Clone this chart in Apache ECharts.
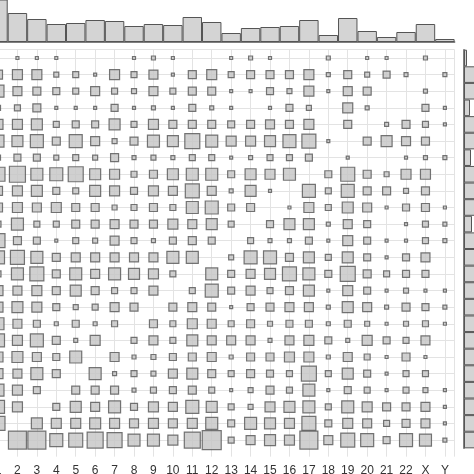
<!DOCTYPE html>
<html><head><meta charset="utf-8">
<script src="https://cdn.jsdelivr.net/npm/echarts@6/dist/echarts.min.js"></script>
<style>html,body{margin:0;padding:0;background:#fff}#c{width:474px;height:474px}</style>
</head><body><div id="c"></div>
<script>
const chroms = ['1','2','3','4','5','6','7','8','9','10','11','12','13','14','15','16','17','18','19','20','21','22','X','Y'];
// matrix rows: chromosome 1..Y (bottom to top), columns chromosome 1..Y
const m1 = [0,18,18,13,14,16,15,12,12,10,16,19,6,9,11,10,18,9,14,13,7,13,12,4];
const m2 = [14,0,11,10,10,11,10,9,10,9,10,12,7,12,11,10,14,7,10,9,6,8,9,3];
const m3 = [13,10,0,7,11,9,12,7,10,9,13,11,6,5,10,11,12,6,12,10,8,8,9,3];
const m4 = [12,10,7,0,8,8,8,4,6,7,8,6,3,5,8,6,12,3,7,6,3,6,5,3];
const m5 = [10,9,12,8,0,12,4,6,5,9,11,8,6,8,7,6,15,6,11,7,3,6,6,0];
const m6 = [10,11,9,7,12,0,9,4,5,7,8,9,4,8,8,10,10,4,9,6,3,8,3,0];
const m7 = [13,10,13,8,4,10,0,6,9,6,11,9,9,9,4,9,10,7,4,10,7,6,9,0];
const m8 = [12,9,7,4,7,4,6,0,8,6,10,9,6,8,5,7,7,4,7,5,3,5,6,3];
const m9 = [10,11,10,7,5,6,9,8,0,8,9,8,3,7,8,9,9,4,11,9,4,8,7,4];
const m10 = [10,9,10,8,11,8,6,6,9,0,6,13,7,9,6,8,11,3,10,7,3,5,3,3];
const m11 = [6,12,14,8,12,9,12,11,10,6,0,12,7,9,11,14,12,7,15,8,6,7,7,0];
const m12 = [13,14,12,8,9,9,9,9,9,12,12,0,5,13,13,8,11,6,11,7,3,7,9,0];
const m13 = [14,8,7,3,6,5,9,6,4,7,8,7,0,6,4,4,7,3,10,7,3,3,6,4];
const m14 = [6,12,6,6,8,8,9,8,8,10,9,11,6,0,7,11,11,4,9,7,0,3,6,4];
const m15 = [9,10,9,10,8,8,5,6,8,6,12,13,7,8,0,3,10,6,11,9,3,7,8,3];
const m16 = [9,10,11,7,6,11,10,7,10,9,14,9,4,11,3,0,13,6,13,8,8,5,8,0];
const m17 = [14,16,12,13,15,11,10,6,8,11,12,12,7,11,10,12,0,7,14,8,5,10,10,0];
const m18 = [5,7,7,5,6,5,8,4,5,4,6,6,3,4,6,6,7,0,3,0,0,3,4,4];
const m19 = [12,11,13,8,13,9,5,8,12,11,15,12,10,10,11,13,14,3,0,8,11,9,8,0];
const m20 = [10,10,11,6,7,7,11,6,10,8,8,8,7,8,9,8,10,0,8,0,4,8,6,3];
const m21 = [5,6,8,3,3,3,7,3,4,3,7,4,3,0,3,7,5,0,10,4,0,0,7,3];
const m22 = [12,9,8,7,6,9,6,5,9,6,8,8,3,3,7,5,10,3,9,8,0,0,4,0];
const mX = [9,10,10,5,6,3,10,6,9,3,8,10,6,8,8,8,10,4,8,5,7,4,0,4];
const mY = [0,3,3,3,0,0,0,3,4,3,0,0,3,4,3,0,0,4,0,3,3,0,4,0];
const topHist = [60,29,23,18,19,22,21,16,18,17,25,20,9,14,15,16,22,7,24,11,5,10,18,3];
const rightHist = [20,20,20,20,20,20,20,20,20,20,20,20,20,8,20,20,20,7,20,20,6,20,20,3];

const rows = [m1,m2,m3,m4,m5,m6,m7,m8,m9,m10,m11,m12,m13,m14,m15,m16,m17,m18,m19,m20,m21,m22,mX,mY];
const pts = [];
rows.forEach((r, ri) => r.forEach((v, ci) => { if (v > 0) pts.push([ci + 1, ri + 1, v]); }));

const UX = 19.43, UY = 16.61;
const gLeft = -2 - UX, gWidth = 24.5 * UX;
const gTop = 58 - 0.5 * UY, gHeight = 24.5 * UY;

const chart = echarts.init(document.getElementById('c'));
chart.setOption({
  animation: false,
  grid: [
    {left: gLeft, top: gTop, width: gWidth, height: gHeight, outerBoundsMode: 'none', containLabel: false},
    {left: gLeft, top: 0, width: gWidth, height: 42, outerBoundsMode: 'none', containLabel: false},
    {left: 464, top: gTop, width: 20, height: 24 * UY, outerBoundsMode: 'none', containLabel: false}
  ],
  xAxis: [
    {gridIndex: 0, type: 'value', min: 0, max: 24.5, interval: 1,
     axisLine: {show: false}, axisTick: {show: false},
     splitLine: {show: true, showMinLine: false, lineStyle: {color: '#e3e3e3'}},
     axisLabel: {margin: 8, color: '#333', fontSize: 12, fontFamily: 'Liberation Sans',
       formatter: v => (v >= 1 && v <= 24 && Number.isInteger(v)) ? chroms[v - 1] : ''}},
    {gridIndex: 1, type: 'value', min: 0, max: 24.5, interval: 1, show: true,
     axisLine: {show: true, onZero: false, lineStyle: {color: '#555', width: 1.5}},
     axisTick: {show: false}, axisLabel: {show: false}, splitLine: {show: false}},
    {gridIndex: 2, type: 'value', min: 0, max: 20, show: false}
  ],
  yAxis: [
    {gridIndex: 0, type: 'value', min: 0, max: 24.5, interval: 1,
     axisLine: {show: false}, axisTick: {show: false}, axisLabel: {show: false},
     splitLine: {show: true, showMinLine: false, lineStyle: {color: '#e3e3e3'}}},
    {gridIndex: 1, type: 'value', min: 0, max: 42, show: false},
    {gridIndex: 2, type: 'category', data: chroms,
     axisLine: {show: true, lineStyle: {color: '#555', width: 1.5}},
     axisTick: {show: false}, axisLabel: {show: false}, splitLine: {show: false}}
  ],
  series: [
    {type: 'scatter', xAxisIndex: 0, yAxisIndex: 0, symbol: 'rect',
     data: pts, symbolSize: d => d[2],
     itemStyle: {color: '#c4c4c4', borderColor: '#555', borderWidth: 1.2}},
    {type: 'bar', xAxisIndex: 1, yAxisIndex: 1, barWidth: UX,
     data: topHist.map((v, i) => [i + 1, v]),
     itemStyle: {color: '#d4d4d4', borderColor: '#555', borderWidth: 1}},
    {type: 'bar', xAxisIndex: 2, yAxisIndex: 2, barWidth: '100%',
     data: rightHist,
     itemStyle: {color: '#d4d4d4', borderColor: '#555', borderWidth: 1}}
  ]
});
</script></body></html>
